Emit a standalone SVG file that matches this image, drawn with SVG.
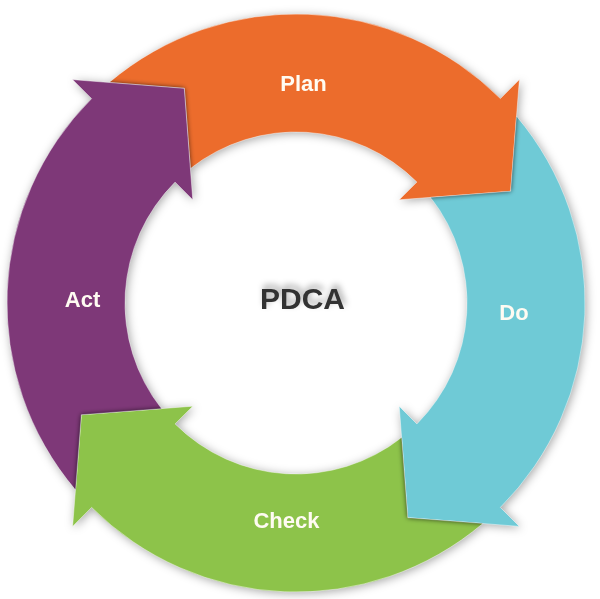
<svg xmlns="http://www.w3.org/2000/svg" xmlns:xlink="http://www.w3.org/1999/xlink" width="600" height="599" viewBox="0 0 600 599">
  <style>
    .label { font-family: "Liberation Sans", Arial, sans-serif; font-weight: bold; font-size: 22px; fill: #FFFBF2; text-anchor: middle; }
    .title { font-family: "Liberation Sans", Arial, sans-serif; font-weight: bold; font-size: 30px; fill: #333333; text-anchor: middle; }
    .edge { stroke: #ffffff; stroke-opacity: 0.45; stroke-width: 1; }
    .plan { fill: #EC6C2C; }
    .do { fill: #6FCAD6; }
    .check { fill: #8DC34A; }
    .act { fill: #7E3878; }
    .castshadow { fill: #000000; fill-opacity: 0.7; }
  </style>
  <defs>
    <!-- one arrow in the "Plan" frame; others are rotations about (296,303) -->
    <path id="arrow" d="M 109.2,82.45 A 289 289 0 0 1 500.4,98.6 L 519.4,79.6 L 510.7,191.3 L 399.2,199.8 L 416.9,182.1 A 171 171 0 0 0 190.4,168.5 L 184.3,88.3 Z"/>
    <!-- head of the previous arrow in the same frame (casts shadow on the tail) -->
    <path id="prevHead" d="M 91.6,98.6 L 72.6,79.6 L 184.3,88.3 L 192.8,199.8 L 175.1,182.1 Z"/>
    <clipPath id="arrowClip">
      <use xlink:href="#arrow"/>
    </clipPath>
    <filter id="blur" x="-20%" y="-20%" width="140%" height="140%">
      <feGaussianBlur stdDeviation="2.5"/>
    </filter>
    <filter id="ringShadow" x="-10%" y="-10%" width="120%" height="120%">
      <feGaussianBlur stdDeviation="5"/>
    </filter>
    <filter id="titleShadow" x="-20%" y="-50%" width="140%" height="200%">
      <feDropShadow dx="2" dy="-4" stdDeviation="3" flood-color="#000000" flood-opacity="0.35"/>
    </filter>
  </defs>

  <rect width="600" height="599" fill="#ffffff"/>

  <!-- soft shadow behind the whole ring -->
  <g id="ring-shadow" filter="url(#ringShadow)" fill="#000000" fill-opacity="0.35">
    <use xlink:href="#arrow" transform="translate(1.5 1.5)"/>
    <use xlink:href="#arrow" transform="translate(1.5 1.5) rotate(90 296 303)"/>
    <use xlink:href="#arrow" transform="translate(1.5 1.5) rotate(180 296 303)"/>
    <use xlink:href="#arrow" transform="translate(1.5 1.5) rotate(270 296 303)"/>
  </g>

  <g id="connectors"/>

  <g id="plan">
    <g>
      <use xlink:href="#arrow" class="plan edge"/>
      <g clip-path="url(#arrowClip)">
        <use xlink:href="#prevHead" class="castshadow" filter="url(#blur)"/>
      </g>
    </g>
    <text class="label" x="303.5" y="91">Plan</text>
  </g>

  <g id="do">
    <g transform="rotate(90 296 303)">
      <use xlink:href="#arrow" class="do edge"/>
      <g clip-path="url(#arrowClip)">
        <use xlink:href="#prevHead" class="castshadow" filter="url(#blur)"/>
      </g>
    </g>
    <text class="label" x="514" y="320">Do</text>
  </g>

  <g id="check">
    <g transform="rotate(180 296 303)">
      <use xlink:href="#arrow" class="check edge"/>
      <g clip-path="url(#arrowClip)">
        <use xlink:href="#prevHead" class="castshadow" filter="url(#blur)"/>
      </g>
    </g>
    <text class="label" x="286.5" y="528">Check</text>
  </g>

  <g id="act">
    <g transform="rotate(270 296 303)">
      <use xlink:href="#arrow" class="act edge"/>
      <g clip-path="url(#arrowClip)">
        <use xlink:href="#prevHead" class="castshadow" filter="url(#blur)"/>
      </g>
    </g>
    <text class="label" x="82.5" y="307">Act</text>
  </g>

  <g id="center">
    <text class="title" x="302.5" y="309" filter="url(#titleShadow)">PDCA</text>
  </g>
</svg>
